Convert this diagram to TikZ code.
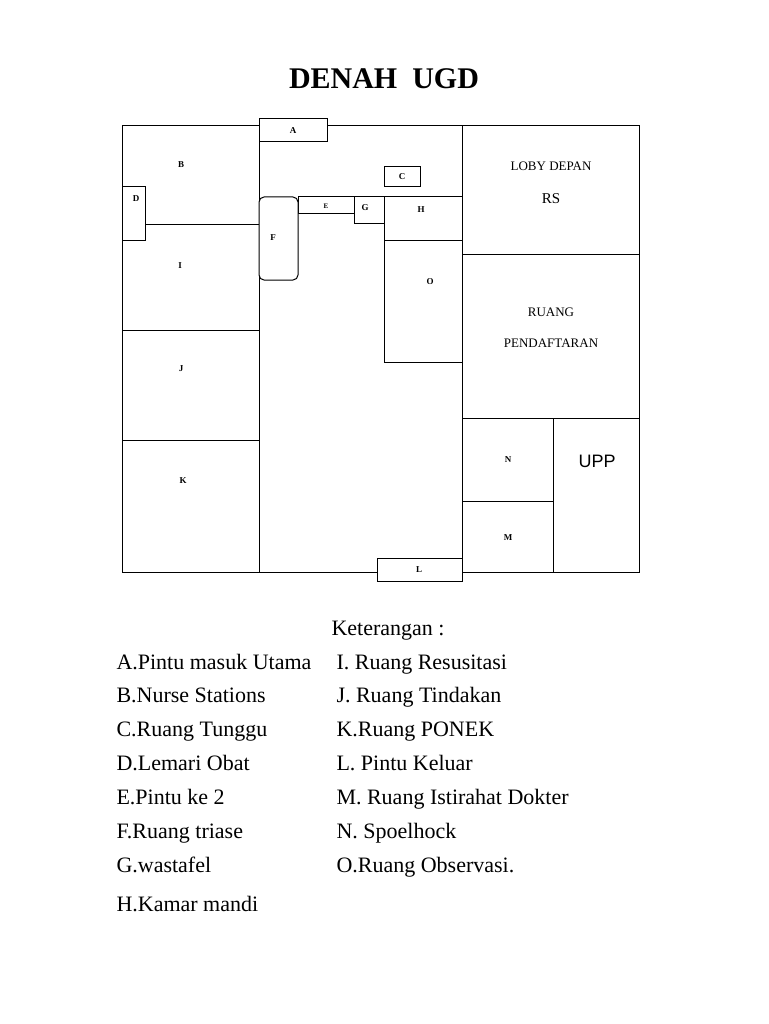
\documentclass[tikz,border=0pt]{standalone}
\usepackage{fontspec}
\setmainfont{Liberation Serif}
\setsansfont{Liberation Sans}
\begin{document}
\begin{tikzpicture}[x=1pt,y=-1pt,line width=1pt,
  lab/.style={font=\bfseries\fontsize{9}{10}\selectfont},
  leg/.style={anchor=west,inner sep=0pt,text height=12pt,text depth=4pt,font=\fontsize{22}{24}\selectfont},
  wall/.style={draw=black}]
\useasboundingbox (0,0) rectangle (768,1024);
\node[font=\bfseries\fontsize{30}{32}\selectfont] (title) at (384,79) {DENAH\ \ UGD};
% outer
\draw[wall] (122,126) rectangle (639,572);
% left column
\draw[wall] (259,126) -- (259,572);
\draw[wall] (145,225) -- (259,225);
\draw[wall] (122,330) -- (259,330);
\draw[wall] (122,440) -- (259,440);
\draw[wall,fill=white] (122,187) rectangle (145,240);
% right block
\draw[wall] (462,126) -- (462,572);
\draw[wall] (462,254) -- (639,254);
\draw[wall] (462,418) -- (639,418);
\draw[wall] (553,418) -- (553,572);
\draw[wall] (462,501) -- (553,501);
% central
\draw[wall,fill=white] (259,119) rectangle (327,142);
\draw[wall] (384,167) rectangle (420,187);
\draw[wall] (298,197) rectangle (354,214);
\draw[wall] (354,197) rectangle (384,224);
\draw[wall] (384,197) rectangle (462,240);
\draw[wall] (384,240) rectangle (462,362);
\draw[wall,fill=white,rounded corners=5pt] (259,197) rectangle (298,280);
\draw[wall,fill=white] (377,558) rectangle (462,581);
% labels
\node[lab] (a) at (293,131) {A};
\node[lab] (b) at (181,165) {B};
\node[lab] (c) at (402,177) {C};
\node[lab] (d) at (136,199) {D};
\node[lab,font=\bfseries\fontsize{7}{8}\selectfont] (e) at (326,206) {E};
\node[lab] (g) at (365,208) {G};
\node[lab] (h) at (421,210) {H};
\node[lab] (f) at (273,238) {F};
\node[lab] (i) at (180,266) {I};
\node[lab] (o) at (430,282) {O};
\node[lab] (j) at (181,369) {J};
\node[lab] (k) at (183,481) {K};
\node[lab] (n) at (508,460) {N};
\node[lab] (m) at (508,538) {M};
\node[lab] (l) at (419,570) {L};
\node[font=\fontsize{13}{14}\selectfont] (loby) at (551,166) {LOBY DEPAN};
\node[font=\fontsize{15}{16}\selectfont] (rs) at (551,199) {RS};
\node[font=\fontsize{13}{14}\selectfont] (ruang) at (551,312) {RUANG};
\node[font=\fontsize{13}{14}\selectfont] (pend) at (551,343) {PENDAFTARAN};
\node[font=\sffamily\fontsize{18}{20}\selectfont] (upp) at (597,461) {UPP};
% legend
\node[leg] (ket) at (331,631) {Keterangan :};
\node[leg] (l1) at (116,665) {A.Pintu masuk Utama};
\node[leg] (l2) at (116,698) {B.Nurse Stations};
\node[leg] (l3) at (116,732) {C.Ruang Tunggu};
\node[leg] (l4) at (116,766) {D.Lemari Obat};
\node[leg] (l5) at (116,800) {E.Pintu ke 2};
\node[leg] (l6) at (116,834) {F.Ruang triase};
\node[leg] (l7) at (116,868) {G.wastafel};
\node[leg] (l8) at (116,907) {H.Kamar mandi};
\node[leg] (r1) at (336,665) {I. Ruang Resusitasi};
\node[leg] (r2) at (336,698) {J. Ruang Tindakan};
\node[leg] (r3) at (336,732) {K.Ruang PONEK};
\node[leg] (r4) at (336,766) {L. Pintu Keluar};
\node[leg] (r5) at (336,800) {M. Ruang Istirahat Dokter};
\node[leg] (r6) at (336,834) {N. Spoelhock};
\node[leg] (r7) at (336,868) {O.Ruang Observasi.};
\end{tikzpicture}
\end{document}
